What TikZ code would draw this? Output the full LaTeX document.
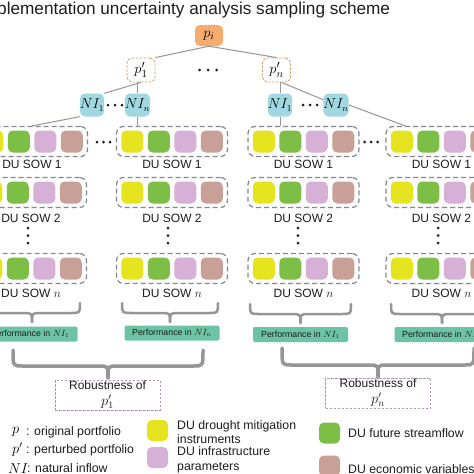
\documentclass[tikz,border=0pt]{standalone}
\usepackage{fontspec}
\setmainfont{Liberation Sans}
\definecolor{corange}{RGB}{246,172,108}
\definecolor{cdorange}{RGB}{212,160,92}
\definecolor{cni}{RGB}{160,216,226}
\definecolor{cyel}{RGB}{230,228,30}
\definecolor{cgreen}{RGB}{124,190,70}
\definecolor{clilac}{RGB}{214,176,214}
\definecolor{cbrown}{RGB}{200,160,152}
\definecolor{cteal}{RGB}{108,196,165}
\definecolor{cline}{RGB}{150,150,150}
\definecolor{cgrp}{RGB}{135,135,145}
\definecolor{crob}{RGB}{180,150,180}
\definecolor{ctxt}{RGB}{30,30,30}
\newcommand{\sowrow}[5]{%
  \node[grp] (#1) at (#2,#3) {};
  \node[sq,fill=cyel] (#1a) at ({#2-39.75},#3) {};
  \node[sq,fill=cgreen] (#1b) at ({#2-13.25},#3) {};
  \node[sq,fill=clilac] (#1c) at ({#2+13.25},#3) {};
  \node[sq,fill=cbrown] (#1d) at ({#2+39.75},#3) {};
  \node[sowlab] (#1l) at (#2,#4) {#5};}
\newcommand{\hdots}[3]{%
  \fill[ctxt] ({#1-#3},#2) circle (1.5);
  \fill[ctxt] (#1,#2) circle (1.5);
  \fill[ctxt] ({#1+#3},#2) circle (1.5);}
\newcommand{\vdotsat}[1]{%
  \fill[ctxt] (#1,228) circle (1.5);
  \fill[ctxt] (#1,235.5) circle (1.5);
  \fill[ctxt] (#1,243) circle (1.5);}
\newcommand{\mybrace}[7]{%
  \draw[#7] (#1,#4) .. controls (#1,#5) .. ({#1+9},#5) -- ({#3-9},#5) .. controls (#3,#5) .. (#3,#6);
  \draw[#7] (#2,#4) .. controls (#2,#5) .. ({#2-9},#5) -- ({#3+9},#5) .. controls (#3,#5) .. (#3,#6);}
\begin{document}
\begin{tikzpicture}[x=1pt,y=-1pt,
  conn/.style={draw=cline,line width=1pt},
  pinode/.style={fill=corange,rounded corners=5pt,minimum width=28pt,minimum height=21pt,inner sep=0pt,font=\fontsize{15}{17}\selectfont},
  pdash/.style={draw=cdorange,dashed,dash pattern=on 2.5pt off 1.5pt,line width=0.9pt,fill=white,rounded corners=5pt,minimum width=28pt,minimum height=24pt,inner sep=0pt,font=\fontsize{15}{17}\selectfont},
  ninode/.style={fill=cni,rounded corners=5pt,minimum width=21pt,minimum height=23pt,inner sep=0pt,font=\fontsize{13.5}{15}\selectfont},
  grp/.style={draw=cgrp,dashed,dash pattern=on 5pt off 3pt,line width=1.2pt,rounded corners=7pt,minimum width=111pt,minimum height=30pt,inner sep=0pt},
  sq/.style={rounded corners=5pt,minimum width=22pt,minimum height=22pt,inner sep=0pt},
  sowlab/.style={font=\fontsize{12}{14}\selectfont,text=ctxt,inner sep=0pt},
  perf/.style={fill=cteal,rounded corners=2pt,minimum width=95pt,minimum height=15pt,inner sep=0pt,font=\fontsize{8.8}{10}\selectfont,text=ctxt},
  rob/.style={draw=crob,dashed,dash pattern=on 2.5pt off 1.5pt,line width=0.9pt,minimum width=105pt,minimum height=30pt,inner sep=0pt,align=center,font=\fontsize{12}{14}\selectfont,text=ctxt},
  sbrace/.style={draw=cline,line width=2.5pt,line cap=round},
  bbrace/.style={draw=cline,line width=3.5pt,line cap=round},
  legtxt/.style={anchor=west,inner sep=0pt,font=\fontsize{12.3}{14.5}\selectfont,text=ctxt,align=left},
  legmath/.style={anchor=west,inner sep=0pt,font=\fontsize{14}{16}\selectfont},
  legsq/.style={rounded corners=5pt,minimum width=21pt,minimum height=21pt,inner sep=0pt}]
\useasboundingbox (0,0) rectangle (474,474);
\clip (0,0) rectangle (474,474);
\fill[white] (0,0) rectangle (474,474);
% title
\node[anchor=base west,inner sep=0pt,font=\fontsize{17.2}{20}\selectfont,text=ctxt] (title) at (-3,14) {plementation uncertainty analysis sampling scheme};
% tree
\node[pinode] (pi) at (209,35.5) {$p_i$};
\node[pdash] (p1) at (141,70) {$p'_1$};
\node[pdash] (pn) at (276.5,70) {$p'_n$};
\hdots{208}{70}{8.5}
\node[ninode] (nl1) at (92,105) {$NI_1$};
\node[ninode] (nln) at (137.5,105) {$NI_n$};
\hdots{115}{105}{7}
\node[ninode] (nr1) at (280,105) {$NI_1$};
\node[ninode] (nrn) at (336,105) {$NI_n$};
\hdots{310}{105}{7}
% SOW rows
\sowrow{ga}{32}{141.5}{164}{DU SOW 1}
\sowrow{gb}{172}{141.5}{164}{DU SOW 1}
\sowrow{gc}{303.5}{141.5}{164}{DU SOW 1}
\sowrow{gd}{441.5}{141.5}{164}{DU SOW 1}
\sowrow{ha}{31}{192.5}{218}{DU SOW 2}
\sowrow{hb}{172}{192.5}{218}{DU SOW 2}
\sowrow{hc}{303.5}{192.5}{218}{DU SOW 2}
\sowrow{hd}{441.5}{192.5}{218}{DU SOW 2}
\sowrow{ka}{31}{268.5}{293}{DU SOW $n$}
\sowrow{kb}{172}{268.5}{293}{DU SOW $n$}
\sowrow{kc}{303.5}{268.5}{293}{DU SOW $n$}
\sowrow{kd}{441.5}{268.5}{293}{DU SOW $n$}
\hdots{103.5}{142}{6.5}
\hdots{371}{142}{6.5}
\vdotsat{28}
\vdotsat{168}
\vdotsat{298}
\vdotsat{438}
% connectors
\coordinate (c4) at (407,126.5);
\draw[conn] (pi.south) -- (p1.north east);
\draw[conn] (pi.south) -- (pn.north);
\draw[conn] (p1.south) -- (nl1.north east);
\draw[conn] (nln.north) -- (nln.north |- p1.south);
\draw[conn] (nr1.north) -- (nr1.north |- pn.south);
\draw[conn] ([xshift=5pt]pn.south) -- (nrn);
\draw[conn] (nl1.south west) -- (ga.north);
\draw[conn] (nln.south) -- (nln.south |- gb.north);
\draw[conn] (nr1.south) -- (nr1.south |- gc.north);
\draw[conn] (nrn.east) -- (c4);
% small braces
\mybrace{-16}{80}{32}{303}{313}{322}{sbrace}
\mybrace{122}{218}{170}{303}{313}{322}{sbrace}
\mybrace{250}{351}{300.5}{304}{314}{323}{sbrace}
\mybrace{391}{494}{442}{304}{314}{323}{sbrace}
% performance
\node[perf] (pf1) at (30,334) {Performance in $NI_1$};
\node[perf] (pf2) at (172,333) {Performance in $NI_n$};
\node[perf] (pf3) at (300.5,334.5) {Performance in $NI_1$};
\node[perf] (pf4) at (442,334.5) {Performance in $NI_n$};
% big braces
\mybrace{13}{203}{108}{350}{366}{378}{bbrace}
\mybrace{282}{474}{378}{348}{365}{377}{bbrace}
\node[rob] (r1) at (107.5,395) {Robustness of\\[1.5pt]{\fontsize{14}{14}\selectfont$p'_1$}};
\node[rob] (r2) at (378,393) {Robustness of\\[1.5pt]{\fontsize{14}{14}\selectfont$p'_n$}};
% legend
\node[legmath] (lp) at (12,432) {$p$};
\node[legtxt] (lpt) at (26,432) {: original portfolio};
\node[legmath] (lpp) at (12,450) {$p'$};
\node[legtxt] (lppt) at (26,450.5) {: perturbed portfolio};
\node[legmath] (lni) at (8,468.5) {$NI$};
\node[legtxt] (lnit) at (27,468.5) {: natural inflow};
\node[legsq,fill=cyel] (s1) at (157.5,430.5) {};
\node[legtxt] (t1) at (177,432) {DU drought mitigation\\instruments};
\node[legsq,fill=clilac] (s2) at (157.5,457.5) {};
\node[legtxt] (t2) at (177,460) {DU infrastructure\\parameters};
\node[legsq,fill=cgreen] (s3) at (329.5,433) {};
\node[legtxt] (t3) at (348,433) {DU future streamflow};
\node[legsq,fill=cbrown] (s4) at (329.5,466) {};
\node[legtxt] (t4) at (348,469) {DU economic variables};
\end{tikzpicture}
\end{document}
